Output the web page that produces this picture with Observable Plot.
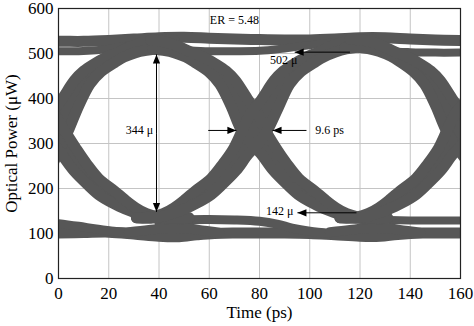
<!DOCTYPE html>
<html><head><meta charset="utf-8">
<script src="https://cdn.jsdelivr.net/npm/d3@7"></script>
<script src="https://cdn.jsdelivr.net/npm/@observablehq/plot@0.6"></script>
<style>body{margin:0;background:#fff}</style>
</head><body><div id="chart"></div>
<script>
// ---- axis ticks ----
const xTicks = [0, 20, 40, 60, 80, 100, 120, 140, 160];
const yTicks = [0, 100, 200, 300, 400, 500, 600];

// ---- eye-diagram traces, [time (ps), power (µW)] ----
const rise1Early = [[-12,285],[-6.8,330],[-3,367],[1.2,397],[6.3,440],[10,461],[13.9,476],[19,492],[24.3,504],[29,516],[34.5,526],[40,530],[46,530]];
const rise1Late  = [[-6,212],[-2,258],[0,282],[4.4,335],[8,383],[12.5,432],[17,460],[22.4,480],[26,492],[30.7,502],[35,507],[39.3,510],[45,511],[50,508]];
const fall1Early = [[-10,362],[-6,334],[-3,307],[1.2,276],[6,240],[11.3,210],[17,182],[24.3,160],[30,147],[34.5,139],[40,134],[46,133],[52,134]];
const fall1Late  = [[-8,423],[-4,387],[0,351],[3.1,323],[7,289],[11.2,255],[16,222],[22.4,194],[26,177],[30.7,157],[35,144],[39.3,137],[45,134],[52,135]];
const fall2Early = [[37.4,510],[41.7,507],[46,502],[50.7,492],[54.3,480],[59.7,460],[64.2,432],[68.7,383],[72.3,335],[76,305],[80.7,276],[85.5,240],[90.8,210],[96.5,182],[103.8,160],[109.5,147],[114,139],[119.5,134],[125.5,133],[131,134]];
const fall2Late  = [[36.7,530],[42.2,526],[47.7,516],[52.4,504],[57.7,492],[62.8,476],[66.7,461],[70.4,440],[75.5,397],[79.3,367],[82.3,330],[86.7,289],[90.9,255],[95.7,222],[102.1,194],[105.7,177],[110.4,157],[114.7,144],[119,137],[124.7,134],[131,135]];
const rise2Early = [[31,135],[37.4,137],[41.7,144],[46,157],[50.7,177],[54.3,194],[60.7,222],[65.5,255],[69.7,289],[73.2,330],[76.5,367],[80.7,397],[85.8,440],[89.5,461],[93.4,476],[98.5,492],[103.8,504],[108.5,516],[114,526],[119.5,530],[125.5,530]];
const rise2Late  = [[31,135],[36.7,134],[42.2,139],[46.7,147],[52.4,160],[59.7,182],[65.4,210],[70.7,240],[75.5,276],[79.6,300],[83.5,333],[87.5,380],[92,432],[96.5,460],[101.9,480],[105.5,492],[110.2,503],[114.5,510],[118.8,514],[124.5,515],[130,513]];
const fall3Early = [[114,513],[118.9,514],[123.2,511],[127.5,505],[132.2,494],[135.8,482],[141.2,460],[145.7,432],[150.2,383],[153.8,335],[157.5,300],[162,265],[167,232]];
const fall3Late  = [[116,532],[118.2,531],[123.7,527],[129.2,516],[133.9,504],[139.2,492],[144.3,476],[148.2,461],[151.9,440],[157,397],[160.8,367],[163.8,330],[168.2,289]];
const rise3Early = [[112,135],[118.9,137],[123.2,144],[127.5,157],[132.2,177],[135.8,194],[142.2,222],[147,255],[151.2,289],[154.7,330],[158,367],[162.2,397],[167,440]];
const rise3Late  = [[112,135],[118.2,134],[123.7,139],[128.2,147],[133.9,160],[141.2,182],[146.9,210],[152.2,240],[157,276],[161,300],[165,333],[169,380]];

const topFlat   = [[-5,526],[0,527],[10,527],[20,529],[30,532],[40,535],[50,536],[60,534],[70,532],[80,531],[90,530],[100,530],[110,532],[120,535],[130,535],[140,532],[150,530],[160,529],[165,529]];
const highLeft  = [[-5,505],[0,505],[8,505],[15,507],[21,511],[27,517],[33,523]];
const highMid   = [[40,512],[50,508],[60,505],[70,505],[80,506],[88,510],[95,515],[102,520],[110,525],[118,528]];
const highRight = [[120,514],[126,509],[132,505],[140,503],[150,502],[160,502],[166,502]];
const lowFlat   = [[-5,101],[0,101],[10,102],[20,103],[30,99],[40,94],[48,93],[55,97],[62,100],[70,101],[80,101],[90,101],[100,100],[110,97],[120,94],[128,94],[135,98],[145,101],[160,101],[165,101]];
const lowLeft   = [[-5,125],[0,122],[8,116],[15,110],[22,105],[30,102]];
const lowMid    = [[40,124],[50,130],[60,131],[70,130],[80,127],[87,121],[93,112],[100,105],[108,100]];
const lowRight  = [[118,133],[125,132],[132,130],[140,129],[150,129],[160,129],[166,129]];
const lowFill1  = [[28,103],[36,108],[44,112],[52,111],[58,106],[64,102]];
const lowFill2  = [[108,103],[116,108],[124,112],[132,111],[138,106],[144,102]];

// ---- annotations ----
const noteText = ["ER = 5.48", "344 \u03bc", "9.6 ps", "502 \u03bc", "142 \u03bc"];
const noteX    = [70, 32.2, 107.9, 89.6, 88];
const noteY    = [574, 329, 330, 486, 149];
// arrows: tail (x1,y1) -> tip (x2,y2)
const arrowX1 = [39, 39, 59.6, 98.7, 116, 118.6];
const arrowY1 = [323, 323, 329, 329, 503, 146];
const arrowX2 = [39, 39, 70.8, 85.2, 94, 95.1];
const arrowY2 = [498, 148, 329, 329, 503, 146];

// ---- drawing ----
const bandColor = "#575757";
const serif = "'Liberation Serif', 'Times New Roman', serif";
const trace = (pts, w) => Plot.line(pts, {
  x: d => d[0], y: d => d[1], stroke: bandColor, strokeWidth: w,
  curve: "catmull-rom", strokeLinecap: "round", strokeLinejoin: "round", clip: true
});
// a band = the region swept between its early and late edge traces
const bandFill = (early, late) => Plot.line(early.concat(late.slice().reverse()), {
  x: d => d[0], y: d => d[1], fill: bandColor, stroke: "none", curve: "catmull-rom-closed", clip: true
});
const bandPairs = [[rise1Early, rise1Late], [fall1Early, fall1Late], [fall2Early, fall2Late],
  [rise2Early, rise2Late], [fall3Early, fall3Late], [rise3Early, rise3Late]];

const headSymbol = {
  draw(ctx, size) {
    const r = Math.sqrt(size / Math.PI);
    ctx.moveTo(0, 0); ctx.lineTo(1.2 * r, 3 * r); ctx.lineTo(-1.2 * r, 3 * r); ctx.closePath();
  }
};
const arrowIdx = arrowX1.map((_, i) => i);
const headRot = i => arrowX2[i] > arrowX1[i] ? 90 : arrowX2[i] < arrowX1[i] ? -90 : (arrowY2[i] > arrowY1[i] ? 0 : 180);

const chart = Plot.plot({
  width: 474, height: 326,
  marginLeft: 58, marginRight: 14, marginTop: 8, marginBottom: 48,
  style: {fontFamily: serif, fontSize: "17px", background: "white", color: "black"},
  x: {domain: [0, 160], ticks: xTicks, tickSize: 0, tickPadding: 8, label: null},
  y: {domain: [0, 600], ticks: yTicks, tickSize: 0, tickPadding: 5, label: null},
  marks: [
    Plot.ruleX(xTicks, {stroke: "#c4c4c4", strokeWidth: 1}),
    Plot.ruleY(yTicks, {stroke: "#c4c4c4", strokeWidth: 1}),
    trace(topFlat, 11),
    trace(highLeft, 8), trace(highMid, 8), trace(highRight, 8),
    trace(lowFlat, 11),
    trace(lowLeft, 9), trace(lowMid, 9), trace(lowRight, 8),
    trace(lowFill1, 10), trace(lowFill2, 10),
    ...bandPairs.map(([e, l]) => bandFill(e, l)),
    ...bandPairs.flat().map(t => trace(t, 11)),
    Plot.frame({stroke: "#222", strokeWidth: 1.2}),
    Plot.link(arrowIdx, {x1: i => arrowX1[i], y1: i => arrowY1[i], x2: i => arrowX2[i], y2: i => arrowY2[i], stroke: "black", strokeWidth: 1}),
    Plot.dot(arrowIdx, {x: i => arrowX2[i], y: i => arrowY2[i], rotate: headRot, symbol: headSymbol, r: 3, fill: "black", stroke: "none"}),
    Plot.text(noteText, {x: (d, i) => noteX[i], y: (d, i) => noteY[i], text: d => d, fontSize: 12, fontFamily: serif, fill: "black"}),
    Plot.text(["Time (ps)"], {frameAnchor: "bottom", dy: 34, lineAnchor: "middle", fontSize: 17, fontFamily: serif, fill: "black"}),
    Plot.text(["Optical Power (\u03bcW)"], {frameAnchor: "left", dx: -47, rotate: -90, textAnchor: "middle", lineAnchor: "middle", fontSize: 17, fontFamily: serif, fill: "black"})
  ]
});
document.getElementById("chart").append(chart);
</script></body></html>
